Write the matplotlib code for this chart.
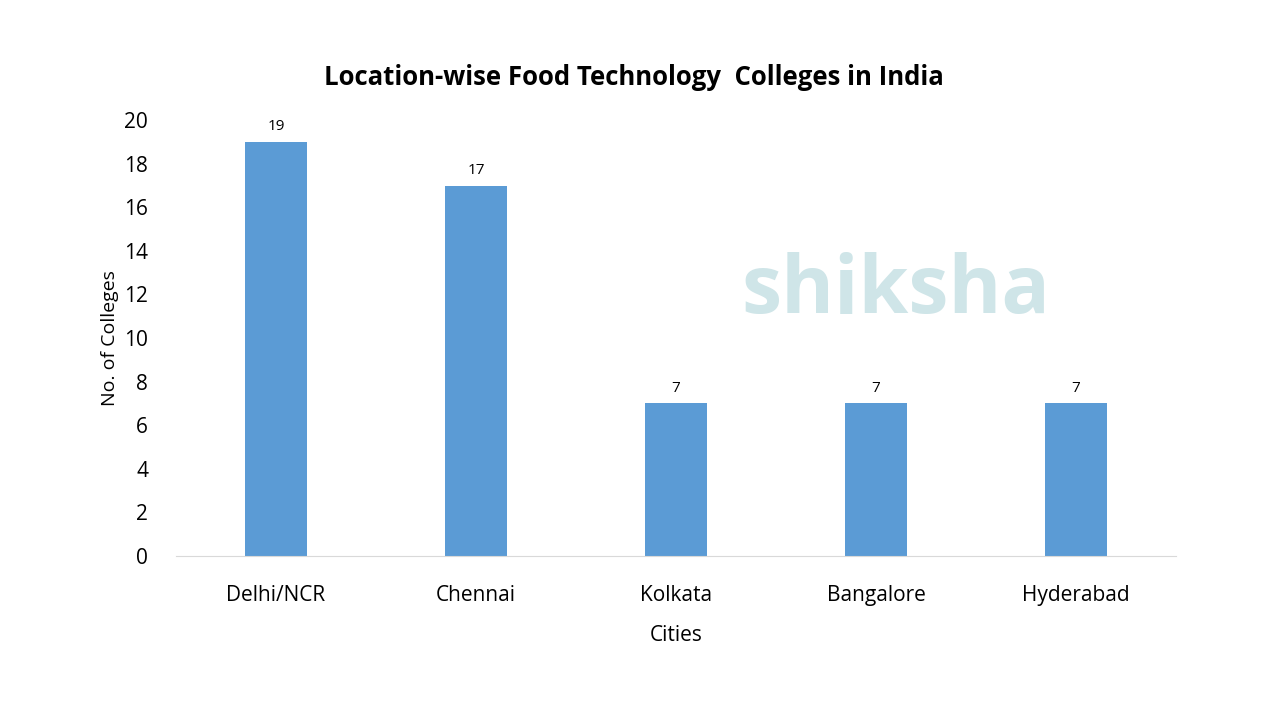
import matplotlib
matplotlib.use("Agg")
import matplotlib.pyplot as plt

cities = ["Delhi/NCR", "Chennai", "Kolkata", "Bangalore", "Hyderabad"]
colleges = [19, 17, 7, 7, 7]
yticks = list(range(0, 21, 2))

plt.rcParams['font.family'] = ['Open Sans', 'DejaVu Sans']
fig = plt.figure(figsize=(12.8, 7.2), dpi=100)
ax = fig.add_axes([0.1375, 0.228, 0.7813, 0.605])

fig.text(0.700, 0.595, "shiksha", fontsize=58, color="#cfe5e8", ha="center",
         va="center", fontweight="bold", zorder=0)

x = range(len(cities))
bars = ax.bar(x, colleges, width=0.31, color="#5b9bd5", zorder=2)
for xi, v in zip(x, colleges):
    ax.text(xi, v + 0.35, str(v), ha="center", va="bottom", fontsize=11)

ax.set_xlim(-0.5, len(cities) - 0.5)
ax.set_ylim(0, 20)
ax.set_yticks(yticks)
ax.set_xticks(list(x))
ax.set_xticklabels(cities)
ax.tick_params(axis="both", labelsize=15, length=0)
ax.tick_params(axis="x", pad=21)
ax.tick_params(axis="y", pad=20)
ax.patch.set_alpha(0)
for s in ["top", "right", "left"]:
    ax.spines[s].set_visible(False)
ax.spines["bottom"].set_color("#d9d9d9")
ax.set_xlabel("Cities", fontsize=15, labelpad=14)
ax.set_ylabel("No. of Colleges", fontsize=14, labelpad=4)
fig.text(0.495, 0.893, "Location-wise Food Technology  Colleges in India",
         ha="center", va="center", fontsize=18.5, fontweight="bold")
fig.savefig("out.png", dpi=100)
